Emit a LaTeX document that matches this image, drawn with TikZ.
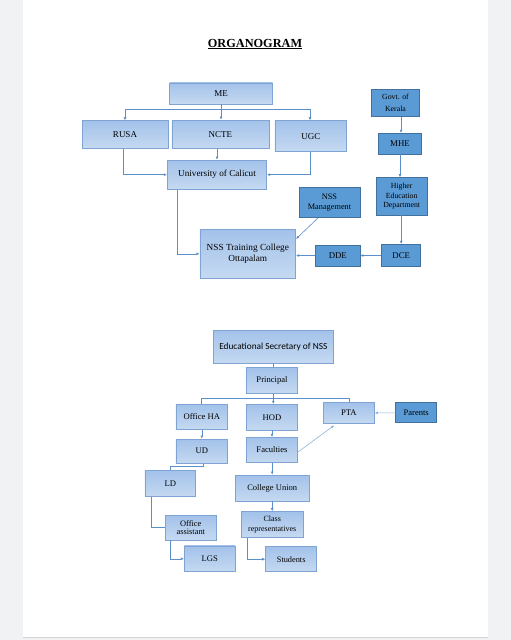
\documentclass[tikz,border=0pt]{standalone}
\usepackage{fontspec}
\setmainfont{Liberation Serif}
\newfontfamily\calfont{Carlito}
\usepackage{tikz}
\usetikzlibrary{positioning}
\usetikzlibrary{arrows.meta}
\usetikzlibrary{calc}
\definecolor{pagegray}{HTML}{F1F2F4}
\definecolor{edgegray}{HTML}{D2D3D5}
\definecolor{linkblue}{HTML}{5B8FCB}
\definecolor{paleblue}{HTML}{8FB3DE}
\definecolor{boxtop}{HTML}{A3C2EA}
\definecolor{boxbot}{HTML}{C5D9F1}
\definecolor{boxline}{HTML}{7FA3D3}
\definecolor{darkfill}{HTML}{5B9BD5}
\definecolor{darkline}{HTML}{41719C}
\tikzset{light node/.style={draw=boxline,top color=boxtop,bottom color=boxbot,inner sep=0pt,align=center,font=\fontsize{8.6}{10}\selectfont},
  dark node/.style={draw=darkline,fill=darkfill,inner sep=0pt,align=center,font=\fontsize{8.8}{10}\selectfont},}

\begin{document}
\begin{tikzpicture}[x=1pt,y=-1pt,>={Latex[length=3.2pt,width=2.8pt]},line width=0.6pt]
    \useasboundingbox (0,0) rectangle (511,640);
    \fill[pagegray] (0,0) rectangle (511,640);
    \fill[white] (23,0) rectangle (488,637);
    \draw[edgegray,line width=1pt] (23,637.5) -- (488,637.5);

    \node (title) at (255,44) {\fontsize{12.3}{14}\selectfont\bfseries\underline{ORGANOGRAM}};

    % upper chart
    \node[light node,minimum width=103pt,minimum height=21pt,font=\fontsize{9}{10}\selectfont] (ME) at (221,93.3) {ME};
    \node[light node,minimum width=86pt,minimum height=27.6pt,font=\fontsize{9}{11}\selectfont] (RUSA) at (125,134.5) {RUSA};
    \node[light node,minimum width=97pt,minimum height=28.3pt,font=\fontsize{9}{11}\selectfont] (NCTE) at (220.3,134.2) {NCTE};
    \node[light node,minimum width=71.7pt,minimum height=31pt,font=\fontsize{9}{11}\selectfont] (UGC) at (310.8,136.2) {UGC};
    \node[light node,minimum width=99.4pt,minimum height=29.3pt,font=\fontsize{9.2}{10}\selectfont] (UoC) at (217,174.7) {University of Calicut};
    \node[light node,minimum width=95.7pt,minimum height=49pt,font=\fontsize{9.3}{10.3}\selectfont] (NSSTC) at (247.8,253.8) {NSS Training College\\Ottapalam};
    \node[dark node,minimum width=47.6pt,minimum height=27.4pt,font=\fontsize{7.8}{11.5}\selectfont] (Govt) at (395.5,103) {Govt. of\\Kerala};
    \node[dark node,minimum width=43.4pt,minimum height=20.7pt] (MHE) at (400,143.7) {MHE};
    \node[dark node,minimum width=51.3pt,minimum height=37.3pt,font=\fontsize{7.8}{9.7}\selectfont] (HED) at (401.7,196.3) {Higher\\Education\\Department};
    \node[dark node,minimum width=39pt,minimum height=21.7pt] (DCE) at (401.2,255.2) {DCE};
    \node[dark node,minimum width=44.3pt,minimum height=21pt] (DDE) at (337.8,255.5) {DDE};
    \node[dark node,minimum width=61pt,minimum height=30pt,font=\fontsize{8.3}{10.3}\selectfont] (NSSM) at (329.5,202.7) {NSS\\Management};

    \coordinate (MEsplit) at (221,109.3);
    \draw[linkblue] (ME) -- (MEsplit);
    \draw[linkblue,->] (MEsplit) -| (RUSA);
    \draw[linkblue,->] (MEsplit) -- (MEsplit |- NCTE.north);
    \draw[linkblue,->] (MEsplit) -| ([xshift=-0.8pt]UGC.north);
    \draw[linkblue,->] ([xshift=-1.7pt]RUSA.south) |- (UoC.west);
    \draw[linkblue,->] (NCTE.south -| UoC) -- (UoC);
    \draw[linkblue,->] ([xshift=-0.8pt]UGC.south) |- (UoC.east);
    \draw[linkblue,->] ([xshift=-39.3pt]UoC.south) |- (NSSTC.west);
    \draw[linkblue,->] ([xshift=19.3pt]NSSM.south west) -- ([yshift=-10pt]NSSTC.north east);
    \draw[linkblue,->] (DCE.west |- DDE) -- (DDE);
    \draw[linkblue,->] (DDE.west) -- (DDE.west -| NSSTC.east);
    \draw[linkblue,->] ([xshift=5.5pt]Govt.south) -- ([xshift=5.5pt]Govt.south |- MHE.north);
    \draw[linkblue,->] (MHE.south) -- (MHE.south |- HED.north);
    \draw[linkblue,->] (HED.south -| DCE) -- (DCE);

    % lower chart
    \node[light node,minimum width=120pt,minimum height=33.3pt,font=\calfont\fontsize{9.3}{10}\selectfont] (EdSec) at (273.3,346.7) {Educational Secretary of NSS};
    \node[light node,minimum width=50.6pt,minimum height=25.6pt] (Principal) at (272,380.5) {Principal};
    \node[light node,minimum width=51.7pt,minimum height=25pt] (OfficeHA) at (201.8,416.8) {Office HA};
    \node[light node,minimum width=50.6pt,minimum height=25.7pt] (HOD) at (272,417.2) {HOD};
    \node[light node,minimum width=51pt,minimum height=20.6pt] (PTA) at (348.8,413) {PTA};
    \node[dark node,minimum width=41pt,minimum height=20pt,font=\fontsize{8.5}{9}\selectfont] (Parents) at (416.2,412.7) {Parents};
    \node[light node,minimum width=51.7pt,minimum height=24.3pt] (UD) at (201.8,451.2) {UD};
    \node[light node,minimum width=50.6pt,minimum height=25.4pt] (Faculties) at (272,450) {Faculties};
    \node[light node,minimum width=50.7pt,minimum height=26pt] (LD) at (170.3,483.7) {LD};
    \node[light node,minimum width=74.3pt,minimum height=26pt,font=\fontsize{8.5}{10}\selectfont] (CUnion) at (272.2,488) {College Union};
    \node[light node,minimum width=50.3pt,minimum height=25pt,font=\fontsize{8.4}{8.4}\selectfont] (OAssist) at (190.8,527.5) {Office\\assistant};
    \node[light node,minimum width=62.3pt,minimum height=25.6pt,font=\fontsize{8}{9.3}\selectfont] (ClassRep) at (272.2,524.5) {Class\\representatives};
    \node[light node,minimum width=50.7pt,minimum height=25.7pt] (LGS) at (209.7,558.8) {LGS};
    \node[light node,minimum width=51pt,minimum height=25pt,font=\fontsize{8.3}{9}\selectfont] (Students) at (291.2,559.2) {Students};

    \coordinate (Psplit) at (273.3,398.3);
    \draw[linkblue] ([xshift=1.3pt]EdSec.south -| Principal) -- ([xshift=1.3pt]Principal.north);
    \draw[linkblue] ([xshift=1.3pt]Principal.south) -- (Psplit);
    \draw[linkblue] (Psplit) -| ([xshift=-0.1pt]OfficeHA.north);
    \draw[linkblue] (Psplit) -| ([xshift=0.5pt]PTA.north);
    \draw[linkblue,->] (Psplit) -- (Psplit |- HOD.north);
    \draw[paleblue,->] (Parents) -- (PTA);
    \draw[linkblue,->] (OfficeHA) -- (UD);
    \draw[linkblue,->] (HOD.south) -- (HOD.south |- Faculties.north);
    \draw[paleblue,->] ([yshift=-2.3pt]Faculties.east) -- ([xshift=-14.5pt,yshift=-1.7pt]PTA.south);
    \draw[linkblue] ([xshift=1.5pt]UD.south) -- ++(0,2.4) -| (LD.north);
    \draw[linkblue] ([xshift=-18.6pt]LD.south) |- (OAssist.west);
    \draw[linkblue,->] ([xshift=-20.1pt]OAssist.south) |- (LGS.west);
    \draw[linkblue,->] (Faculties.south -| CUnion) -- (CUnion);
    \draw[linkblue,->] (CUnion) -- (ClassRep);
    \draw[linkblue,->] ([xshift=-24.9pt]ClassRep.south) |- (Students.west);
\end{tikzpicture}
\end{document}
